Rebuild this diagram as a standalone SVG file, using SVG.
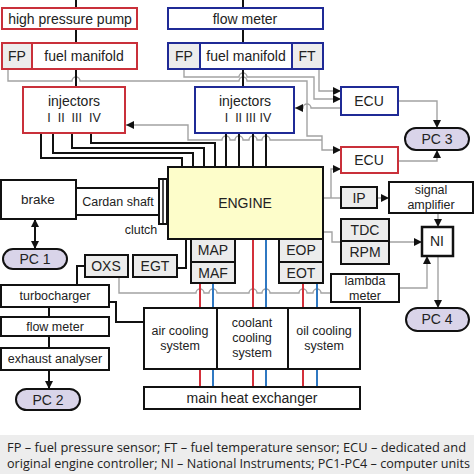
<svg xmlns="http://www.w3.org/2000/svg" width="474" height="474" viewBox="0 0 474 474">
<defs>
<style>
.bk{fill:#fff;stroke:#111;stroke-width:2}
.rd{fill:#fff;stroke:#c9303a;stroke-width:2}
.bl{fill:#fff;stroke:#1f2a96;stroke-width:2}
.pc{fill:#d9d4e9;stroke:#111;stroke-width:2}
.en{fill:#fdfdca;stroke:#111;stroke-width:2}
text{font-family:"Liberation Sans",Arial,sans-serif;font-size:14px;fill:#222;text-anchor:middle;dominant-baseline:central}
.sm{font-size:12.5px}
.gl{fill:none;stroke:#a3a3a3;stroke-width:1.4}
.kl{fill:none;stroke:#111;stroke-width:2}
.rl{fill:none;stroke:#d3303a;stroke-width:2}
.ul{fill:none;stroke:#2f78c2;stroke-width:2}
</style>
<marker id="ah" viewBox="0 0 10 10" refX="10" refY="5" markerWidth="9" markerHeight="8" markerUnits="userSpaceOnUse" orient="auto-start-reverse"><path d="M0,0L10,5L0,10z" fill="#111"/></marker>
</defs>
<rect width="474" height="474" fill="#fff"/>

<g id="connectors">
<path class="gl" d="M8,69V81H72A4,4 0 0 1 80,81H239A4,4 0 0 1 247,81H307V136H322V150H341" marker-end="url(#ah)"/>
<path class="gl" d="M184,69V77H239A4,4 0 0 1 247,77H314V99H341" marker-end="url(#ah)"/>
<path class="gl" d="M319,69V91H341" marker-end="url(#ah)"/>
<path class="gl" d="M341,108H311A4,4 0 0 0 303,108H295" marker-end="url(#ah)"/>
<path class="gl" d="M322,140H270A4,4 0 0 0 262,140H257A4,4 0 0 0 249,140H243A4,4 0 0 0 235,140H230A4,4 0 0 0 222,140H188V125H126" marker-end="url(#ah)"/>
<path class="gl" d="M323,198H341"/>
<path class="gl" d="M331,198V169H341" marker-end="url(#ah)"/>
<path class="gl" d="M398,101H437V128" marker-end="url(#ah)"/>
<path class="gl" d="M398,161H437V150" marker-end="url(#ah)"/>
<path class="gl" d="M377,198H389" marker-end="url(#ah)"/>
<path class="gl" d="M438,213V227" marker-end="url(#ah)"/>
<path class="gl" d="M323,232H332V242H422" marker-end="url(#ah)"/>
<path class="gl" d="M399,288H427V256" marker-end="url(#ah)"/>
<path class="gl" d="M438,256V308" marker-end="url(#ah)"/>
<path class="gl" d="M119,277V293H196A4,4 0 0 1 204,293H209A4,4 0 0 1 217,293H249A4,4 0 0 1 257,293H262A4,4 0 0 1 270,293H299A4,4 0 0 1 307,293H313A4,4 0 0 1 321,293H331"/>

<path class="kl" d="M76,0V8M76,29V43M76,69V87M243,0V8M243,29V43M243,69V87"/>
<path class="kl" d="M41,133V158H182V167M53,133V153H193V167M72,133V148H204V167M91,133V143H215V167"/>
<path class="kl" d="M226,133V167M239,133V167M253,133V167M266,133V167"/>
<path class="kl" d="M177,268H186V239M85,266H77V285M109,302H116V322H144M49,307V317M49,336V348"/>
<path class="kl" d="M49,370V389" marker-end="url(#ah)"/>
<path class="kl" d="M35,219V249" marker-start="url(#ah)" marker-end="url(#ah)"/>

<path class="rl" d="M200,283V308M200,369V387M253,239V308M253,369V387M303,283V308M303,369V387"/>
<path class="ul" d="M213,283V308M213,369V387M266,239V308M266,369V387M317,283V308M317,369V387"/>
</g>

<g id="high-pressure-pump"><rect class="rd" x="2" y="8" width="135" height="21"/><text x="70" y="19">high pressure pump</text></g>
<g id="fp-red"><rect class="rd" x="2" y="43" width="30" height="26" style="fill:#ececec"/><text x="17" y="56">FP</text></g>
<g id="fuel-manifold-red"><rect class="rd" x="32" y="43" width="105" height="26"/><text x="84" y="56">fuel manifold</text></g>
<g id="injectors-red"><rect class="rd" x="23" y="87" width="102" height="46"/><text x="74" y="101">injectors</text><text x="74" y="118" class="sm" xml:space="preserve">I  II  III  IV</text></g>

<g id="flow-meter-blue"><rect class="bl" x="168" y="8" width="155" height="21"/><text x="245" y="19">flow meter</text></g>
<g id="fp-blue"><rect class="bl" x="168" y="43" width="32" height="26" style="fill:#ececec"/><text x="184" y="56">FP</text></g>
<g id="fuel-manifold-blue"><rect class="bl" x="200" y="43" width="92" height="26"/><text x="246" y="56">fuel manifold</text></g>
<g id="ft"><rect class="bl" x="292" y="43" width="31" height="26" style="fill:#ececec"/><text x="307" y="56">FT</text></g>
<g id="injectors-blue"><rect class="bl" x="195" y="87" width="99" height="46"/><text x="245" y="101">injectors</text><text x="248" y="118" class="sm" xml:space="preserve">I  II III IV</text></g>

<g id="ecu-blue"><rect class="bl" x="341" y="87" width="57" height="28"/><text x="369" y="101">ECU</text></g>
<g id="ecu-red"><rect class="rd" x="341" y="147" width="57" height="26"/><text x="369" y="160">ECU</text></g>
<g id="pc3"><rect class="pc" x="405" y="128" width="64" height="22" rx="11"/><text x="437" y="139">PC 3</text></g>

<g id="engine"><rect class="en" x="168" y="167" width="155" height="72"/><text x="245" y="203">ENGINE</text></g>
<g id="brake"><rect class="bk" x="1" y="180" width="75" height="39"/><text x="38" y="199" style="font-size:13.5px">brake</text></g>
<g id="cardan-shaft"><rect class="bk" x="76" y="188" width="83" height="27"/><text x="118" y="202" class="sm">Cardan shaft</text></g>
<g id="clutch"><rect class="bk" x="159" y="179" width="8" height="45"/><path class="kl" d="M163,179V224" style="stroke-width:1.5"/><text x="141" y="230" class="sm">clutch</text></g>
<g id="pc1"><rect class="pc" x="3" y="249" width="64" height="20" rx="10"/><text x="35" y="259">PC 1</text></g>

<g id="oxs"><rect class="bk" x="85" y="255" width="43" height="22" style="fill:#ececec"/><text x="106" y="266">OXS</text></g>
<g id="egt"><rect class="bk" x="133" y="255" width="44" height="22" style="fill:#ececec"/><text x="155" y="266">EGT</text></g>
<g id="map"><rect class="bk" x="191" y="239" width="44" height="23" style="fill:#ececec"/><text x="213" y="250">MAP</text></g>
<g id="maf"><rect class="bk" x="191" y="262" width="44" height="21" style="fill:#ececec"/><text x="213" y="273">MAF</text></g>
<g id="eop"><rect class="bk" x="279" y="239" width="44" height="23" style="fill:#ececec"/><text x="301" y="250">EOP</text></g>
<g id="eot"><rect class="bk" x="279" y="262" width="44" height="21" style="fill:#ececec"/><text x="301" y="273">EOT</text></g>

<g id="ip"><rect class="bk" x="341" y="187" width="36" height="21" style="fill:#ececec"/><text x="359" y="198">IP</text></g>
<g id="signal-amplifier"><rect class="bk" x="389" y="182" width="84" height="31"/><text x="431" y="190" class="sm">signal</text><text x="431" y="205" class="sm">amplifier</text></g>
<g id="tdc"><rect class="bk" x="341" y="219" width="48" height="22" style="fill:#ececec"/><text x="365" y="230">TDC</text></g>
<g id="rpm"><rect class="bk" x="341" y="241" width="48" height="23" style="fill:#ececec"/><text x="365" y="252">RPM</text></g>
<g id="ni"><rect class="bk" x="422" y="227" width="31" height="29" style="stroke-width:2.5"/><text x="437" y="241">NI</text></g>
<g id="lambda-meter"><rect class="bk" x="331" y="274" width="68" height="28"/><text x="365" y="281" class="sm">lambda</text><text x="365" y="296" class="sm">meter</text></g>
<g id="pc4"><rect class="pc" x="406" y="308" width="63" height="23" rx="11.5"/><text x="437" y="319">PC 4</text></g>

<g id="turbocharger"><rect class="bk" x="1" y="285" width="108" height="22"/><text x="55" y="296" class="sm">turbocharger</text></g>
<g id="flow-meter"><rect class="bk" x="1" y="317" width="108" height="19"/><text x="55" y="327" class="sm">flow meter</text></g>
<g id="exhaust-analyser"><rect class="bk" x="1" y="348" width="108" height="22"/><text x="55" y="359" class="sm">exhaust analyser</text></g>
<g id="pc2"><rect class="pc" x="16" y="389" width="64" height="21" rx="10.5"/><text x="48" y="400">PC 2</text></g>

<g id="air-cooling"><rect class="bk" x="144" y="308" width="73" height="61"/><text x="180" y="331" class="sm">air cooling</text><text x="180" y="346" class="sm">system</text></g>
<g id="coolant-cooling"><rect class="bk" x="217" y="308" width="71" height="61"/><text x="252" y="323" class="sm">coolant</text><text x="252" y="338" class="sm">cooling</text><text x="252" y="353" class="sm">system</text></g>
<g id="oil-cooling"><rect class="bk" x="288" y="308" width="72" height="61"/><text x="324" y="331" class="sm">oil cooling</text><text x="324" y="346" class="sm">system</text></g>
<g id="main-heat-exchanger"><rect class="bk" x="144" y="387" width="216" height="22"/><text x="252" y="398">main heat exchanger</text></g>

<g id="legend">
<rect x="0" y="435" width="474" height="39" fill="#ededed"/>
<text x="7" y="447" style="text-anchor:start;font-family:'Open Sans','Liberation Sans',sans-serif;font-size:12.5px" textLength="459" lengthAdjust="spacingAndGlyphs">FP – fuel pressure sensor; FT – fuel temperature sensor; ECU – dedicated and</text>
<text x="7" y="463" style="text-anchor:start;font-family:'Open Sans','Liberation Sans',sans-serif;font-size:12.5px" textLength="463" lengthAdjust="spacingAndGlyphs">original engine controller; NI – National Instruments; PC1-PC4 – computer units</text>
</g>
</svg>
